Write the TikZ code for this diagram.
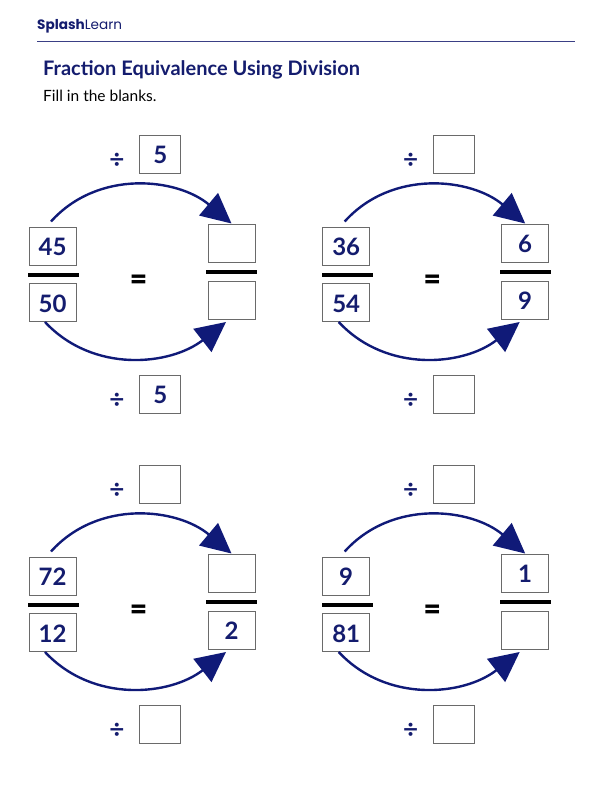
\documentclass[tikz,border=0pt]{standalone}
\usepackage{fontspec}
\setmainfont{Lato}
\newfontfamily\logofont{Poppins}
\newfontfamily\heavyfont{Lato Black}
\usetikzlibrary{arrows.meta}
\definecolor{inknavy}{HTML}{141C6E}
\definecolor{arcnavy}{HTML}{101A78}
\definecolor{rulenavy}{HTML}{3A3F85}
\definecolor{boxgray}{HTML}{6A6A6A}
\tikzset{
    answerbox/.style={draw=boxgray,line width=1pt,fill=white,minimum width=47pt,minimum height=38pt,inner sep=0,text=inknavy,text height=19pt,text depth=0pt,font=\fontsize{24pt}{24pt}\selectfont\bfseries},
    divisorbox/.style={answerbox,minimum width=41pt},
    fractionbar/.style={fill=black,minimum width=51pt,minimum height=4pt,inner sep=0},
    divarc/.style={draw=arcnavy,line width=2.4pt,-{Triangle[length=30pt,width=29pt,fill=arcnavy]}},
    divsign/.style={text=inknavy,inner sep=0,font=\fontsize{26pt}{26pt}\selectfont\bfseries}
}
\begin{document}
\begin{tikzpicture}[x=1pt,y=1pt]
    \useasboundingbox (0,0) rectangle (612,-792);
    \pgfmathsetmacro{\panelshiftx}{293.7}
    \pgfmathsetmacro{\panelshifty}{-330}
    % header
    \node[anchor=west,inner sep=0,text=inknavy,font=\logofont\fontsize{13.6pt}{13.6pt}\selectfont] (logo) at (37,-26) {\textbf{Splash}Learn};
    \draw[rulenavy,line width=1pt] (37,-41.5) -- (575,-41.5);
    \node[anchor=west,inner sep=0,text=inknavy,font=\fontsize{20pt}{20pt}\selectfont\bfseries] (title) at (43,-70) {Fraction Equivalence Using Division};
    \node[anchor=west,inner sep=0,font=\fontsize{15.5pt}{15.5pt}\selectfont] (hint) at (43,-96) {Fill in the blanks.};
    % panels
    \foreach \panel/\col/\row/\divtop/\numl/\denl/\numr/\denr/\divbot in {
        a/0/0/5/45/50///5,
        b/1/0//36/54/6/9/,
        c/0/1//72/12//2/,
        d/1/1//9/81/1//}
    {
    \begin{scope}[shift={(\col*\panelshiftx,\row*\panelshifty)}]
        \node[answerbox] (numl\panel) at (52.5,-246) {\numl};
        \node[fractionbar] (barl\panel) at (53.5,-275) {};
        \node[answerbox] (denl\panel) at (52.5,-302.5) {\denl};
        \node[answerbox] (numr\panel) at (231.5,-243) {\numr};
        \node[fractionbar] (barr\panel) at (231.5,-272) {};
        \node[answerbox] (denr\panel) at (231.5,-300) {\denr};
        \node[inner sep=0,font=\heavyfont\fontsize{30pt}{30pt}\selectfont] (eq\panel) at (138.5,-282.5) {=};
        \node[divisorbox] (boxt\panel) at (160.4,-154) {\divtop};
        \node[divsign] (signt\panel) at (117,-161) {÷};
        \node[divisorbox] (boxb\panel) at (160.4,-394) {\divbot};
        \node[divsign] (signb\panel) at (117,-401) {÷};
        \draw[divarc] ([xshift=-1.5pt,yshift=5pt]numl\panel.north) to[out=48,in=140] (numr\panel.north);
        \draw[divarc] ([xshift=-7.5pt]denl\panel.south) to[out=-47,in=218] ([xshift=-5.5pt,yshift=-2.5pt]denr\panel.south);
    \end{scope}
    }
\end{tikzpicture}
\end{document}
